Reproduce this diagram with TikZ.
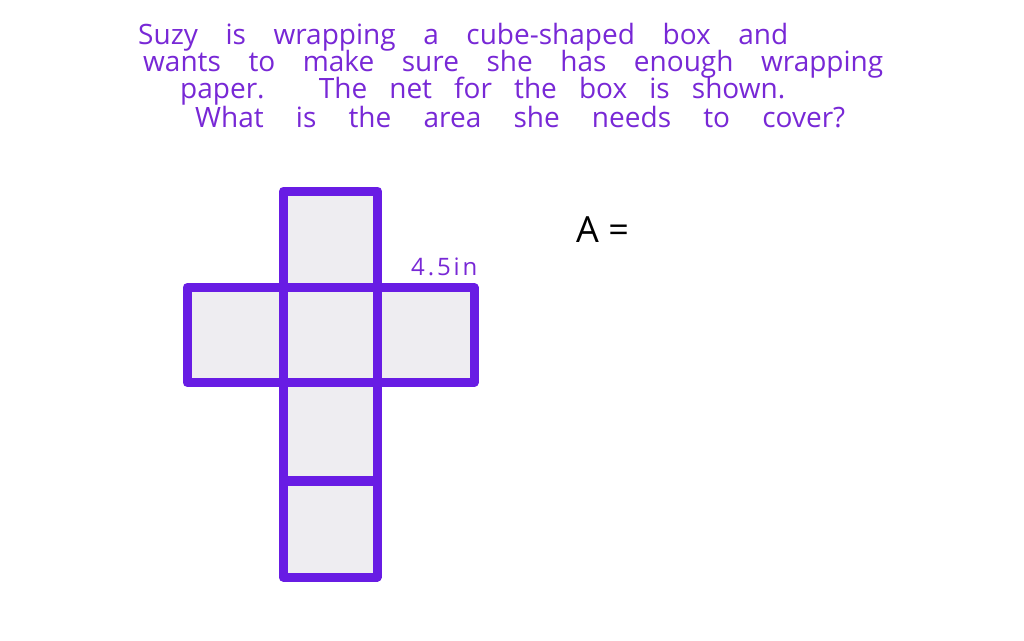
\documentclass[tikz,border=0pt]{standalone}
\usepackage{fontspec}
\setmainfont{Open Sans}
\definecolor{netline}{RGB}{104,28,228}
\definecolor{netfill}{RGB}{238,237,241}
\definecolor{handink}{RGB}{120,40,214}
\tikzset{
  face/.style={draw=netline, fill=netfill, line width=9pt, line join=round, inner sep=0pt},
  qline/.style={anchor=base west, inner sep=0pt, text=handink, font=\fontsize{28}{32}\selectfont},
}
\begin{document}
\begin{tikzpicture}[x=1pt,y=-1pt]
\useasboundingbox[fill=white] (0,0) rectangle (1024,640);
% question text
\node[qline] (l1) at (138,44) {\makebox[650pt][s]{Suzy is wrapping a cube-shaped box and}};
\node[qline] (l2) at (143,71) {\makebox[740pt][s]{wants to make sure she has enough wrapping}};
\node[qline] (l3) at (180,98) {\makebox[605pt][s]{paper. The net for the box is shown.}};
\node[qline] (l4) at (195,127) {\makebox[650pt][s]{What is the area she needs to cover?}};
% cube net
\node[face, minimum width=94pt, minimum height=97pt] (top) at (330.5,239.5) {};
\node[face, minimum width=96pt, minimum height=95pt] (left) at (235,335) {};
\node[face, minimum width=97pt, minimum height=95pt] (right) at (425.5,335) {};
\node[face, minimum width=94pt, minimum height=95pt] (mid) at (330.5,335) {};
\node[face, minimum width=94pt, minimum height=98pt] (low) at (330,431.5) {};
\node[face, minimum width=94pt, minimum height=96pt] (bottom) at (330,529) {};
% labels
\node[anchor=base west, inner sep=0pt, text=handink, font=\fontsize{24}{28}\selectfont\addfontfeature{LetterSpace=12}] (side) at (411,275) {4.5in};
\node[anchor=base west, inner sep=0pt, text=black, font=\fontsize{36}{42}\selectfont] (area) at (576,242) {A =};
\end{tikzpicture}
\end{document}
